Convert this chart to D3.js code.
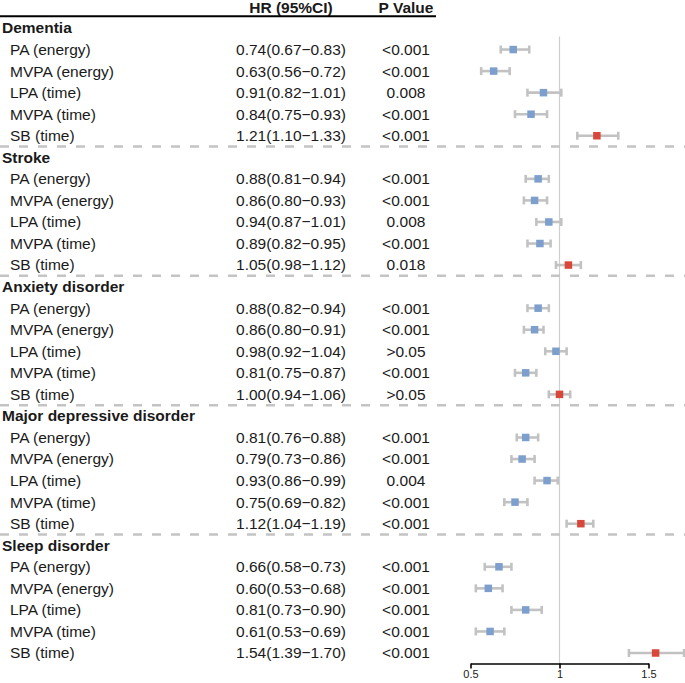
<!DOCTYPE html>
<html>
<head>
<meta charset="utf-8">
<script src="https://cdn.jsdelivr.net/npm/d3@7"></script>
<style>
  body { margin: 0; background: #fff; }
  text { font-family: "Liberation Sans", Arial, sans-serif; fill: #1a1a1a; }
</style>
</head>
<body>
<div id="chart"></div>
<script>
// groups and exposures
const groups = ["Dementia", "Stroke", "Anxiety disorder", "Major depressive disorder", "Sleep disorder"];
const exposures = ["PA (energy)", "MVPA (energy)", "LPA (time)", "MVPA (time)", "SB (time)"];

// hazard ratios, one array per group, same order as exposures
const hr    = [[0.74, 0.63, 0.91, 0.84, 1.21],
               [0.88, 0.86, 0.94, 0.89, 1.05],
               [0.88, 0.86, 0.98, 0.81, 1.00],
               [0.81, 0.79, 0.93, 0.75, 1.12],
               [0.66, 0.60, 0.81, 0.61, 1.54]];
const lower = [[0.67, 0.56, 0.82, 0.75, 1.10],
               [0.81, 0.80, 0.87, 0.82, 0.98],
               [0.82, 0.80, 0.92, 0.75, 0.94],
               [0.76, 0.73, 0.86, 0.69, 1.04],
               [0.58, 0.53, 0.73, 0.53, 1.39]];
const upper = [[0.83, 0.72, 1.01, 0.93, 1.33],
               [0.94, 0.93, 1.01, 0.95, 1.12],
               [0.94, 0.91, 1.04, 0.87, 1.06],
               [0.88, 0.86, 0.99, 0.82, 1.19],
               [0.73, 0.68, 0.90, 0.69, 1.70]];
const pvals = [["<0.001", "<0.001", "0.008", "<0.001", "<0.001"],
               ["<0.001", "<0.001", "0.008", "<0.001", "0.018"],
               ["<0.001", "<0.001", ">0.05", "<0.001", ">0.05"],
               ["<0.001", "<0.001", "0.004", "<0.001", "<0.001"],
               ["<0.001", "<0.001", "<0.001", "<0.001", "<0.001"]];
const xTicks = [0.5, 1, 1.5];

const width = 685, height = 683;
const fmt = d3.format(".2f");

const svg = d3.select("#chart").append("svg")
  .attr("width", width)
  .attr("height", height);

// rows: a header row per group followed by its exposures
const rows = [];
groups.forEach((g, gi) => {
  rows.push({ type: "group", label: g, gi });
  exposures.forEach((e, ei) => {
    rows.push({ type: "item", label: e, gi, ei,
      hr: hr[gi][ei], lo: lower[gi][ei], hi: upper[gi][ei], p: pvals[gi][ei],
      sb: e === "SB (time)" });
  });
});

// y: row index -> pixel
const y = d3.scaleLinear().domain([0, rows.length - 1]).range([28, 653]);
const x = d3.scaleLinear().domain([0.5, 1.5]).range([470.5, 648.5]);

const fontSize = 15.5;
const hrX = 291, pX = 406;

// column header
const headY = y(-1) + 1.5;
svg.append("text").attr("x", hrX).attr("y", headY).attr("dy", "0.35em")
  .attr("text-anchor", "middle").attr("font-weight", "bold").attr("font-size", fontSize)
  .text("HR (95%CI)");
svg.append("text").attr("x", pX).attr("y", headY).attr("dy", "0.35em")
  .attr("text-anchor", "middle").attr("font-weight", "bold").attr("font-size", fontSize)
  .text("P Value");
svg.append("line").attr("x1", 0).attr("x2", 436)
  .attr("y1", y(-0.55)).attr("y2", y(-0.55))
  .attr("stroke", "#000").attr("stroke-width", 2);

// reference line at HR = 1
svg.append("line")
  .attr("x1", x(1)).attr("x2", x(1))
  .attr("y1", y(0.4)).attr("y2", 663.5)
  .attr("stroke", "#cfcfcf").attr("stroke-width", 1.2);

// dashed separators between groups
d3.range(1, groups.length).forEach(k => {
  const yy = y(k * 6 - 0.5);
  svg.append("line").attr("x1", 0).attr("x2", width)
    .attr("y1", yy).attr("y2", yy)
    .attr("stroke", "#c4c4c4").attr("stroke-width", 2.5)
    .attr("stroke-dasharray", "9,10");
});

// left labels
svg.selectAll(".lab").data(rows).join("text")
  .attr("class", "lab")
  .attr("x", d => d.type === "group" ? 2 : 10)
  .attr("y", (d, i) => y(i)).attr("dy", "0.35em")
  .attr("font-size", fontSize)
  .attr("font-weight", d => d.type === "group" ? "bold" : "normal")
  .text(d => d.label);

const items = rows.map((d, i) => Object.assign({ i }, d)).filter(d => d.type === "item");

// HR text
svg.selectAll(".hrt").data(items).join("text")
  .attr("class", "hrt")
  .attr("x", hrX).attr("y", d => y(d.i)).attr("dy", "0.35em")
  .attr("text-anchor", "middle").attr("font-size", fontSize)
  .text(d => `${fmt(d.hr)}(${fmt(d.lo)}\u2212${fmt(d.hi)})`);

// p value text
svg.selectAll(".pt").data(items).join("text")
  .attr("class", "pt")
  .attr("x", pX).attr("y", d => y(d.i)).attr("dy", "0.35em")
  .attr("text-anchor", "middle").attr("font-size", fontSize)
  .text(d => d.p);

// error bars
const eb = svg.append("g").attr("stroke", "#c2c2c2").attr("stroke-width", 2.6);
eb.selectAll(".ci").data(items).join("line")
  .attr("x1", d => x(d.lo)).attr("x2", d => x(d.hi))
  .attr("y1", d => y(d.i)).attr("y2", d => y(d.i));
eb.selectAll(".capl").data(items).join("line")
  .attr("x1", d => x(d.lo)).attr("x2", d => x(d.lo))
  .attr("y1", d => y(d.i) - 4).attr("y2", d => y(d.i) + 4);
eb.selectAll(".caph").data(items).join("line")
  .attr("x1", d => x(d.hi)).attr("x2", d => x(d.hi))
  .attr("y1", d => y(d.i) - 4).attr("y2", d => y(d.i) + 4);

// point estimates
const s = 7.5;
svg.selectAll(".pt-mark").data(items).join("rect")
  .attr("x", d => x(d.hr) - s / 2).attr("y", d => y(d.i) - s / 2)
  .attr("width", s).attr("height", s)
  .attr("fill", d => d.sb ? "#d9473a" : "#7d9fce");

// x axis
const axis = svg.append("g")
  .attr("transform", "translate(0,663.5)")
  .call(d3.axisBottom(x).tickValues(xTicks).tickSize(5).tickSizeOuter(0).tickFormat(d3.format("")));
axis.select(".domain").attr("stroke", "#000").attr("stroke-width", 1.6);
axis.selectAll(".tick line").attr("stroke", "#000").attr("stroke-width", 1.6);
axis.selectAll(".tick text")
  .attr("font-family", "Liberation Sans, Arial, sans-serif")
  .attr("font-size", 11).attr("fill", "#1a1a1a").attr("dy", "0.6em");
</script>
</body>
</html>
